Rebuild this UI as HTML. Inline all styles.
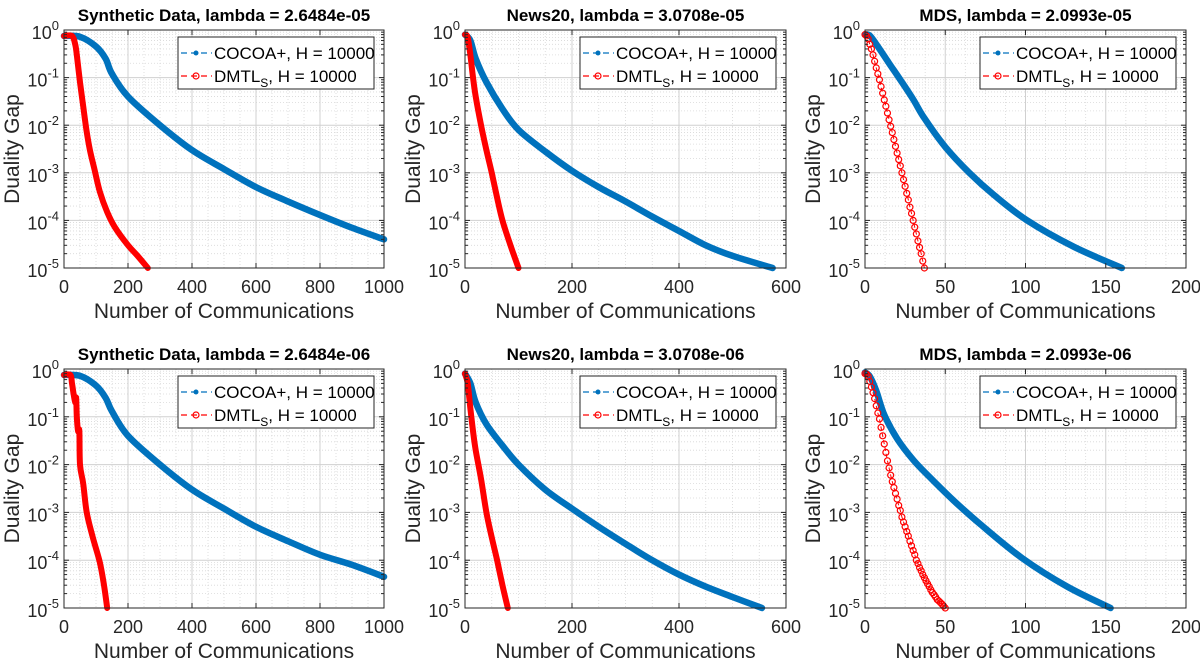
<!DOCTYPE html>
<html><head><meta charset="utf-8"><style>
html,body{margin:0;padding:0;background:#fff;width:1200px;height:665px;overflow:hidden}
svg{display:block;font-family:"Liberation Sans",Arial,sans-serif}
</style></head><body>
<svg id="fig" width="1200" height="665" viewBox="0 0 1200 665"></svg>
<script>
// ---- data (x = communications, y = duality gap) ----
const p1Title = "Synthetic Data, lambda = 2.6484e-05";
const p1CocoaX = [0,50,100,130,150,200,300,400,500,600,700,800,900,1000];
const p1CocoaY = [0.75,0.72,0.45,0.25,0.12,0.04,0.01,0.003,0.0012,0.0005,0.00025,0.00013,0.00007,0.00004];
const p1DmtlX = [0,25,35,40,50,60,70,81,95,112,135,160,200,230,262];
const p1DmtlY = [0.75,0.75,0.5,0.3,0.08,0.025,0.008,0.003,0.0012,0.0004,0.00015,0.00007,0.00003,0.000018,0.00001];

const p2Title = "News20, lambda = 3.0708e-05";
const p2CocoaX = [0,10,20,40,70,100,150,200,250,300,350,400,450,500,575];
const p2CocoaY = [0.8,0.6,0.25,0.08,0.022,0.008,0.0028,0.0011,0.0005,0.00025,0.00012,0.00006,0.00003,0.000018,0.00001];
const p2DmtlX = [0,5,10,15,20,30,40,50,60,70,85,100];
const p2DmtlY = [0.8,0.7,0.3,0.1,0.04,0.01,0.003,0.001,0.0003,0.0001,0.00003,0.00001];

const p3Title = "MDS, lambda = 2.0993e-05";
const p3CocoaX = [0,3,8,15,22,30,37,50,65,80,101,130,160];
const p3CocoaY = [0.8,0.76,0.45,0.2,0.09,0.035,0.014,0.0035,0.001,0.00035,0.0001,0.000028,0.00001];
const p3DmtlY = [0.8,0.75,0.65,0.5,0.4,0.3,0.22,0.16,0.12,0.09,0.065,0.047,0.034,0.025,0.018,0.013,0.0095,0.007,0.005,0.0036,0.0026,0.0019,0.0014,0.001,0.00072,0.00052,0.00037,0.00027,0.00019,0.00014,0.0001,0.000072,0.000052,0.000037,0.000027,0.00002,0.000014,0.00001];

const p4Title = "Synthetic Data, lambda = 2.6484e-06";
const p4CocoaX = [0,50,100,130,150,200,300,400,500,600,700,800,900,1000];
const p4CocoaY = [0.75,0.72,0.45,0.25,0.13,0.04,0.01,0.003,0.0012,0.0005,0.00025,0.00013,0.00008,0.000045];
const p4DmtlX = [0,20,25,30,35,38,40,44,48,50,60,71,90,112,125,135];
const p4DmtlY = [0.75,0.75,0.5,0.3,0.2,0.25,0.1,0.05,0.05,0.01,0.004,0.001,0.0003,0.00009,0.00003,0.00001];

const p5Title = "News20, lambda = 3.0708e-06";
const p5CocoaX = [0,10,20,40,70,100,150,200,250,300,350,400,450,500,555];
const p5CocoaY = [0.8,0.5,0.2,0.07,0.025,0.01,0.003,0.0012,0.0005,0.00022,0.0001,0.00005,0.000028,0.000017,0.00001];
const p5DmtlX = [0,5,10,15,20,30,40,50,60,70,80];
const p5DmtlY = [0.8,0.5,0.15,0.05,0.02,0.005,0.001,0.0003,0.0001,0.00003,0.00001];

const p6Title = "MDS, lambda = 2.0993e-06";
const p6CocoaX = [0,3,7,12,20,30,40,55,72,98,126,153];
const p6CocoaY = [0.85,0.7,0.35,0.11,0.035,0.0126,0.0056,0.0018,0.00056,0.00011,0.000028,0.00001];
const p6DmtlY = [0.8,0.78,0.7,0.55,0.42,0.32,0.24,0.17,0.12,0.09,0.06,0.04,0.027,0.018,0.012,0.0085,0.006,0.0044,0.0033,0.0025,0.0019,0.0014,0.0011,0.0008,0.00063,0.0005,0.0004,0.00032,0.00025,0.0002,0.00016,0.00013,0.0001,0.000085,0.00007,0.00006,0.00005,0.000043,0.000037,0.000032,0.000028,0.000024,0.000021,0.000019,0.000017,0.000015,0.000014,0.000013,0.000012,0.000011,0.00001];

const ticks1000 = [0,200,400,600,800,1000];
const ticks600 = [0,200,400,600];
const ticks200 = [0,50,100,150,200];
const yExp = [0,-1,-2,-3,-4,-5];

const NS = "http://www.w3.org/2000/svg";
const svg = document.getElementById('fig');
function mk(tag, attrs, parent){
  const e = document.createElementNS(NS, tag);
  for (const k in attrs) e.setAttribute(k, attrs[k]);
  (parent||svg).appendChild(e);
  return e;
}
const BLUE = "#0072BD", RED = "#FF0000";

function smoothPath(pts){
  let d = 'M'+pts[0][0]+','+pts[0][1];
  for (let i=0;i<pts.length-1;i++){
    const p0=pts[Math.max(0,i-1)], p1=pts[i], p2=pts[i+1], p3=pts[Math.min(pts.length-1,i+2)];
    const c1x=p1[0]+(p2[0]-p0[0])/6, c1y=p1[1]+(p2[1]-p0[1])/6;
    const c2x=p2[0]-(p3[0]-p1[0])/6, c2y=p2[1]-(p3[1]-p1[1])/6;
    d += ' C'+c1x+','+c1y+' '+c2x+','+c2y+' '+p2[0]+','+p2[1];
  }
  return d;
}

function panel(o){
  const g = mk('g', {});
  
  
  const L=o.L, R=o.R, T=o.T, B=o.B;
  const xs = v => L + (v - 0) / o.xmax * (R - L);
  const ys = v => B - (Math.log10(v) + 5) / 5 * (B - T);
  const grid = mk('g', {}, g);
  
  
  for (let d=-5; d<0; d++) for (let m=2; m<10; m++){
    const y = ys(m*Math.pow(10,d));
    mk('line',{x1:L,x2:R,y1:y,y2:y,stroke:'#d8d8d8','stroke-width':0.8,'stroke-dasharray':'1 2'},grid);
  }
  const mstep = o.xstep/4;
  for (let v=mstep; v<o.xmax; v+=mstep){
    if (Math.abs(v/o.xstep - Math.round(v/o.xstep))<1e-6) continue;
    const x = xs(v);
    mk('line',{x1:x,x2:x,y1:T,y2:B,stroke:'#d8d8d8','stroke-width':0.8,'stroke-dasharray':'1 2'},grid);
  }
  yExp.forEach(e=>{ const y=ys(Math.pow(10,e)); mk('line',{x1:L,x2:R,y1:y,y2:y,stroke:'#d0d0d0','stroke-width':1},grid);});
  o.ticks.forEach(v=>{ const x=xs(v); mk('line',{x1:x,x2:x,y1:T,y2:B,stroke:'#d0d0d0','stroke-width':1},grid);});
  const cocoa = mk('path',{d:smoothPath(o.cx.map((v,i)=>[xs(v),ys(o.cy[i])])),fill:'none',stroke:BLUE,'stroke-width':6.5,'stroke-linejoin':'round','stroke-linecap':'round'},g);
  
  
  if (o.dx){
    const dm = mk('path',{d:smoothPath(o.dx.map((v,i)=>[xs(v),ys(o.dy[i])])),fill:'none',stroke:RED,'stroke-width':6,'stroke-linejoin':'round','stroke-linecap':'round'},g);
    
    
  } else {
    const dg = mk('g',{},g);
    
    
    mk('polyline',{points:o.dy.map((v,i)=>xs(i)+','+ys(v)).join(' '),fill:'none',stroke:RED,'stroke-width':1,'stroke-dasharray':'4 3'},dg);
    o.dy.forEach((v,i)=>{
      const c = mk('circle',{cx:xs(i),cy:ys(v),r:3,fill:'none',stroke:RED,'stroke-width':1.2},dg);
      
      
    });
  }
  mk('rect',{x:L,y:T,width:R-L,height:B-T,fill:'none',stroke:'#262626','stroke-width':1},g);
  for (let d=-5; d<0; d++) for (let m=2; m<10; m++){
    const y=ys(m*Math.pow(10,d));
    mk('line',{x1:L,x2:L+3,y1:y,y2:y,stroke:'#262626','stroke-width':1},g);
    mk('line',{x1:R,x2:R-3,y1:y,y2:y,stroke:'#262626','stroke-width':1},g);
  }
  yExp.forEach(e=>{
    const y=ys(Math.pow(10,e));
    mk('line',{x1:L,x2:L+5,y1:y,y2:y,stroke:'#262626'},g);
    mk('line',{x1:R,x2:R-5,y1:y,y2:y,stroke:'#262626'},g);
    const t = mk('text',{x:L-5,y:y+9,'text-anchor':'end','font-size':18,fill:'#262626'},g);
    
    
    t.appendChild(document.createTextNode('10'));
    const s = mk('tspan',{dy:-9,'font-size':13},t);
    s.textContent = String(e);
  });
  o.ticks.forEach(v=>{
    const x=xs(v);
    mk('line',{x1:x,x2:x,y1:B,y2:B-5,stroke:'#262626'},g);
    mk('line',{x1:x,x2:x,y1:T,y2:T+5,stroke:'#262626'},g);
    const t = mk('text',{x:x,y:B+25,'text-anchor':'middle','font-size':18,fill:'#262626'},g);
    
    
    t.textContent = v;
  });
  const title = mk('text',{x:(L+R)/2,y:T-9,'text-anchor':'middle','font-size':17,'font-weight':'bold',fill:'#000'},g);
  
  
  title.textContent = o.title;
  const xl = mk('text',{x:(L+R)/2,y:B+50,'text-anchor':'middle','font-size':21,fill:'#262626'},g);
  
  
  xl.textContent = 'Number of Communications';
  const yl = mk('text',{x:0,y:0,'text-anchor':'middle','font-size':21,fill:'#262626',transform:'translate('+(L-45)+','+((T+B)/2)+') rotate(-90)'},g);
  
  
  yl.textContent = 'Duality Gap';
  const lg = mk('g',{},g);
  
  
  const lx = R-206, ly = T+7;
  mk('rect',{x:lx,y:ly,width:196,height:52,fill:'#fff',stroke:'#262626','stroke-width':1},lg);
  const e1 = mk('g',{},lg);
  
  
  mk('line',{x1:lx+3,x2:lx+34,y1:ly+16,y2:ly+16,stroke:BLUE,'stroke-width':1.2,'stroke-dasharray':'6 4'},e1);
  mk('circle',{cx:lx+18,cy:ly+16,r:2.5,fill:BLUE},e1);
  const t1 = mk('text',{x:lx+36,y:ly+22,'font-size':17,fill:'#000'},e1);
  t1.textContent = 'COCOA+, H = 10000';
  const e2 = mk('g',{},lg);
  
  
  mk('line',{x1:lx+3,x2:lx+34,y1:ly+39,y2:ly+39,stroke:RED,'stroke-width':1.2,'stroke-dasharray':'6 4'},e2);
  mk('circle',{cx:lx+18,cy:ly+39,r:3,fill:'none',stroke:RED,'stroke-width':1.2},e2);
  const t2 = mk('text',{x:lx+36,y:ly+45,'font-size':17,fill:'#000'},e2);
  t2.appendChild(document.createTextNode('DMTL'));
  const sb = mk('tspan',{dy:5,'font-size':12},t2); sb.textContent='S';
  const rest = mk('tspan',{dy:-5},t2); rest.textContent=', H = 10000';
}

const row1 = {T:30,B:268}, row2 = {T:369,B:608};
const cols = [{L:64,R:384},{L:465,R:786},{L:865,R:1186}];
panel({name:'panel-synthetic-e05',title:p1Title,...cols[0],...row1,xmax:1000,xstep:200,ticks:ticks1000,cx:p1CocoaX,cy:p1CocoaY,dx:p1DmtlX,dy:p1DmtlY});
panel({name:'panel-news20-e05',title:p2Title,...cols[1],...row1,xmax:600,xstep:200,ticks:ticks600,cx:p2CocoaX,cy:p2CocoaY,dx:p2DmtlX,dy:p2DmtlY});
panel({name:'panel-mds-e05',title:p3Title,...cols[2],...row1,xmax:200,xstep:50,ticks:ticks200,cx:p3CocoaX,cy:p3CocoaY,dy:p3DmtlY});
panel({name:'panel-synthetic-e06',title:p4Title,...cols[0],...row2,xmax:1000,xstep:200,ticks:ticks1000,cx:p4CocoaX,cy:p4CocoaY,dx:p4DmtlX,dy:p4DmtlY});
panel({name:'panel-news20-e06',title:p5Title,...cols[1],...row2,xmax:600,xstep:200,ticks:ticks600,cx:p5CocoaX,cy:p5CocoaY,dx:p5DmtlX,dy:p5DmtlY});
panel({name:'panel-mds-e06',title:p6Title,...cols[2],...row2,xmax:200,xstep:50,ticks:ticks200,cx:p6CocoaX,cy:p6CocoaY,dy:p6DmtlY});
</script>
</body></html>
